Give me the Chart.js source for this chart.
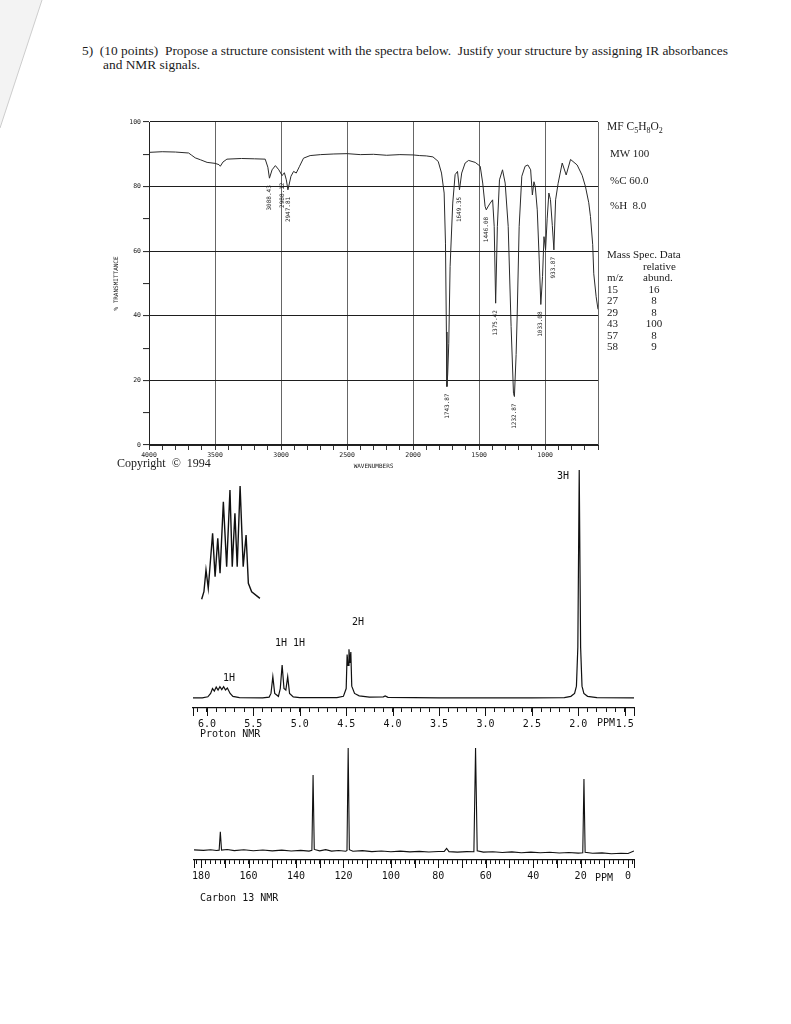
<!DOCTYPE html>
<html>
<head>
<meta charset="utf-8">
<script src="https://cdn.jsdelivr.net/npm/chart.js@4.4.0/dist/chart.umd.min.js"></script>
<style>
  body { margin: 0; background: #fff; }
  #page { position: relative; width: 791px; height: 1024px; overflow: hidden; background: #fff;
          font-family: "Liberation Serif", "Times New Roman", serif; color: #1b1b1b; }
  .t { position: absolute; white-space: nowrap; line-height: 1; }
  .mono { font-family: "DejaVu Sans Mono", monospace; color: #111; }
  canvas { position: absolute; }
  #ms div { height: 11.5px; line-height: 11.5px; position: relative; }
  #ms .ab { position: absolute; left: 32px; width: 30px; text-align: center; }
</style>
</head>
<body>
<div id="page">
  <svg width="60" height="140" style="position:absolute;left:0;top:0">
    <polygon points="0,0 42,0 0,128" fill="#f3f3f3"/>
    <line x1="42" y1="0" x2="0" y2="128" stroke="#cdcdcd" stroke-width="1"/>
  </svg>

  <div class="t" style="left:82px;top:44px;font-size:13.4px">5)&nbsp;&nbsp;(10 points)&nbsp; Propose a structure consistent with the spectra below.&nbsp; Justify your structure by assigning IR absorbances</div>
  <div class="t" style="left:103px;top:58px;font-size:13.4px">and NMR signals.</div>

  <canvas id="ir" width="520" height="363" style="left:90px;top:112px"></canvas>

  <div class="t" style="left:607px;top:121px;font-size:11.5px">MF C<sub style="font-size:8px">5</sub>H<sub style="font-size:8px">8</sub>O<sub style="font-size:8px">2</sub></div>
  <div class="t" style="left:610px;top:148px;font-size:11px">MW 100</div>
  <div class="t" style="left:610px;top:175px;font-size:11px">%C 60.0</div>
  <div class="t" style="left:610px;top:200px;font-size:11px">%H&nbsp; 8.0</div>
  <div class="t" style="left:607px;top:249px;font-size:11px;width:90px" id="ms">
    <div>Mass Spec. Data</div>
    <div><span class="ab" style="left:36px;width:auto">relative</span></div>
    <div>m/z<span class="ab" style="left:36px;width:auto">abund.</span></div>
  </div>

  <div class="t" style="left:117px;top:457px;font-size:12px">Copyright &nbsp;&copy;&nbsp; 1994</div>

  <canvas id="inset" width="66" height="119" style="left:198px;top:483px"></canvas>
  <canvas id="hnmr" width="470" height="290" style="left:180px;top:455px"></canvas>

  <div class="t mono" style="left:557px;top:471px;font-size:10px">3H</div>
  <div class="t mono" style="left:352px;top:617px;font-size:10px">2H</div>
  <div class="t mono" style="left:275px;top:638px;font-size:10px">1H 1H</div>
  <div class="t mono" style="left:223px;top:673px;font-size:10px">1H</div>
  <div class="t mono" style="left:597px;top:718px;font-size:10px">PPM</div>
  <div class="t mono" style="left:200px;top:729px;font-size:10px">Proton NMR</div>

  <canvas id="cnmr" width="470" height="160" style="left:180px;top:730px"></canvas>
  <div class="t mono" style="left:595px;top:873px;font-size:10px">PPM</div>
  <div class="t mono" style="left:200px;top:893px;font-size:10px">Carbon 13 NMR</div>
</div>

<script>
// ---- IR spectrum (wavenumber cm-1, % transmittance)
const irWavenumber = [4000, 3900, 3800, 3700, 3680, 3650, 3610, 3560, 3500, 3470, 3460, 3440, 3410, 3300, 3200, 3120,
  3100, 3088, 3068, 3043, 3017, 2992, 2975, 2960, 2948, 2925, 2905, 2885, 2860, 2830, 2780, 2700, 2600, 2500, 2400,
  2300, 2200, 2100, 2000, 1950, 1900, 1850, 1810, 1785, 1765, 1755, 1748, 1744, 1738, 1730, 1720, 1700, 1682, 1664,
  1649, 1632, 1606, 1580, 1530, 1492, 1473, 1455, 1446, 1430, 1416, 1398, 1386, 1375, 1362, 1346, 1323, 1303, 1280,
  1258, 1240, 1233, 1220, 1212, 1197, 1177, 1152, 1131, 1110, 1097, 1085, 1075, 1060, 1045, 1033, 1020, 1009, 997,
  985, 972, 960, 946, 934, 921, 902, 871, 841, 808, 758, 720, 695, 670, 657, 640, 632, 614, 600];
const irTransmittance = [90.6, 90.8, 90.7, 90.4, 89.8, 88.9, 88.3, 87.5, 87.2, 86.8, 86.3, 87.6, 88.5, 88.7, 88.6, 88.5,
  86.0, 82.6, 85.2, 86.5, 85.2, 83.4, 84.3, 82.1, 79.0, 83.2, 84.7, 84.2, 86.3, 88.8, 89.6, 89.9, 90.1, 90.2, 89.9,
  90.0, 89.7, 89.9, 89.8, 89.6, 89.5, 89.2, 87.8, 84.2, 78.0, 62.5, 35.0, 18.1, 22.0, 31.5, 55.3, 74.9, 83.7, 84.7,
  79.0, 84.2, 87.3, 88.1, 87.5, 86.3, 81.1, 73.9, 72.8, 74.0, 74.9, 75.9, 67.7, 43.9, 67.7, 82.1, 85.2, 81.1, 67.7,
  36.7, 16.0, 15.0, 28.0, 40.0, 67.7, 83.2, 86.3, 86.7, 85.2, 77.4, 81.5, 80.0, 72.8, 57.3, 43.5, 52.2, 64.5, 60.4,
  70.0, 78.0, 76.0, 68.0, 60.4, 75.9, 81.0, 87.3, 83.6, 88.4, 86.7, 83.5, 80.0, 75.0, 70.7, 62.0, 53.0, 45.9, 42.0];
const irPeakLabels = ['3088.43', '2988.12', '2947.81', '1743.87', '1649.35', '1446.08', '1375.42', '1232.87', '1033.08', '933.87'];
const irPeakMinT = [82.6, 83.4, 79.0, 18.1, 79.0, 72.8, 43.9, 15.0, 43.5, 60.4];

// ---- mass spec table
const msMz = [15, 27, 29, 43, 57, 58];
const msAbund = [16, 8, 8, 100, 8, 9];

// ---- proton NMR (ppm, intensity)
const hPpm = [6.15, 6.05, 5.99, 5.96, 5.94, 5.92, 5.90, 5.88, 5.86, 5.84, 5.82, 5.80, 5.78, 5.75, 5.72, 5.65, 5.40,
  5.33, 5.31, 5.29, 5.27, 5.23, 5.21, 5.19, 5.17, 5.15, 5.13, 5.11, 5.07, 5.00, 4.60, 4.53, 4.50, 4.49, 4.48, 4.47,
  4.46, 4.45, 4.44, 4.41, 4.36, 4.25, 4.10, 4.08, 4.05, 3.50, 3.00, 2.50, 2.15, 2.08, 2.04, 2.02, 2.005, 1.99, 1.975,
  1.96, 1.94, 1.90, 1.80, 1.40];
const hIntensity = [4.2, 4.2, 4.6, 6.0, 8.0, 7.0, 8.6, 7.4, 8.8, 7.6, 8.8, 7.4, 8.2, 6.0, 4.8, 4.3, 4.2,
  4.5, 6.0, 12.9, 6.0, 4.8, 8.0, 17.7, 8.0, 7.4, 12.9, 6.0, 4.6, 4.3, 4.3, 4.8, 8.0, 22.0, 17.5, 24.2,
  18.5, 23.0, 9.0, 6.0, 5.0, 4.5, 4.6, 5.0, 4.4, 4.2, 4.2, 4.2, 4.3, 4.8, 6.0, 9.0, 25.0, 97.9, 25.0,
  9.0, 6.0, 4.8, 4.3, 4.2];

// ---- expansion of the 1H multiplet (inset)
const insetPpm = [5.992, 5.981, 5.971, 5.960, 5.939, 5.927, 5.914, 5.903, 5.887, 5.871, 5.855, 5.844, 5.831, 5.820,
  5.806, 5.791, 5.777, 5.766, 5.750, 5.710];
const insetIntensity = [0.6, 7.2, 26.1, 10.2, 58.0, 20.3, 53.6, 23.2, 85.5, 29.0, 95.7, 29.0, 75.4, 29.0,
  99.1, 29.0, 56.5, 14.5, 7.2, 1.4];

// ---- carbon 13 NMR (ppm, intensity)
const cPpm = [183, 179, 176, 173.5, 172.4, 171.9, 171.4, 169, 166, 162, 158, 154, 150, 146, 142, 138, 134.5, 133.3,
  132.8, 132.3, 130, 127.5, 125, 122, 119, 118.5, 118.0, 117.5, 116, 112, 108, 104, 100, 96, 92, 88, 84, 80, 77.5,
  76.5, 75.5, 72, 68, 65, 64.3, 63.6, 61, 57, 53, 49, 45, 41, 37, 33, 29, 25, 21, 19.1, 18.6, 18.1, 15, 11, 7, 3, 0, -2.5];
const cIntensity = [8.4, 8.0, 8.6, 7.9, 8.2, 23.6, 8.3, 8.7, 7.8, 8.5, 7.7, 8.3, 7.6, 8.2, 7.5, 8.0, 7.4, 8.0,
  70.8, 8.8, 7.6, 8.6, 7.4, 7.9, 7.3, 7.9, 93.3, 8.6, 7.3, 7.8, 7.0, 7.5, 6.9, 7.4, 6.8, 7.2, 6.7, 7.1, 7.2,
  9.6, 7.0, 6.6, 7.0, 6.9, 93.3, 7.6, 6.6, 6.9, 6.3, 6.8, 6.1, 6.6, 6.0, 6.4, 5.8, 6.2, 5.7, 6.0, 67.5, 6.4, 5.6, 5.9, 5.2, 5.6, 5.4, 7.6];

const MONO = '"DejaVu Sans Mono", monospace';
const near = (v, step) => Math.abs(v / step - Math.round(v / step)) < 1e-6;
const toXY = (xs, ys) => xs.map((x, i) => ({ x: x, y: ys[i] }));

// mass spec rows
const msBox = document.getElementById('ms');
msMz.forEach((m, i) => {
  const row = document.createElement('div');
  row.innerHTML = m + '<span class="ab">' + msAbund[i] + '</span>';
  msBox.appendChild(row);
});

// rotated wavenumber labels under the IR dips
const irLabelPlugin = {
  id: 'irLabels',
  afterDatasetsDraw(chart) {
    const { ctx, scales: { x, y } } = chart;
    ctx.save();
    ctx.font = '6px ' + MONO;
    ctx.fillStyle = '#222';
    irPeakLabels.forEach((txt, i) => {
      const px = x.getPixelForValue(parseFloat(txt));
      const py = y.getPixelForValue(irPeakMinT[i]) + 7;
      ctx.save();
      ctx.translate(px, py);
      ctx.rotate(-Math.PI / 2);
      ctx.textAlign = 'right';
      ctx.textBaseline = 'middle';
      ctx.fillText(txt, 0, 0);
      ctx.restore();
    });
    ctx.restore();
  }
};

// longer ticks on the NMR ppm axes
function majorTicks(id, every, len) {
  return {
    id: id,
    afterDraw(chart) {
      const s = chart.scales.x, ctx = chart.ctx;
      ctx.save();
      ctx.strokeStyle = '#111';
      ctx.lineWidth = 1;
      const xs = s.ticks.filter(t => near(t.value, every)).map(t => s.getPixelForValue(t.value));
      xs.push(s.left, s.right);
      xs.forEach(px => {
        const p = Math.round(px) + 0.5;
        ctx.beginPath();
        ctx.moveTo(p, s.top);
        ctx.lineTo(p, s.top + len);
        ctx.stroke();
      });
      ctx.restore();
    }
  };
}

new Chart(document.getElementById('ir'), {
  type: 'line',
  data: {
    datasets: [{
      data: toXY(irWavenumber, irTransmittance),
      borderColor: '#2a2a2a',
      borderWidth: 1,
      pointRadius: 0,
      tension: 0
    }]
  },
  options: {
    responsive: false,
    animation: false,
    layout: { padding: { left: 0, top: 10, right: 12, bottom: 0 } },
    plugins: { legend: { display: false }, tooltip: { enabled: false } },
    scales: {
      x: {
        type: 'linear', reverse: true, min: 600, max: 4000,
        afterFit: s => { s.height = 30; },
        border: { display: true, color: '#222', width: 1 },
        grid: {
          color: c => (c.tick && (near(c.tick.value, 500) || c.tick.value === 600)) ? '#666' : 'rgba(0,0,0,0)',
          tickColor: '#333', tickLength: 5, lineWidth: 1
        },
        ticks: {
          stepSize: 100, maxTicksLimit: 1000, autoSkip: false, maxRotation: 0, includeBounds: false, padding: 1,
          color: '#222', font: { family: MONO, size: 6.5 },
          callback: v => near(v, 500) ? String(v) : ''
        },
        title: { display: true, text: 'WAVENUMBERS', color: '#222', font: { family: MONO, size: 6 }, padding: { top: 0, bottom: 5 } }
      },
      y: {
        min: 0, max: 100,
        afterFit: s => { s.width = 59; },
        border: { display: true, color: '#222', width: 1 },
        grid: {
          color: c => (c.tick && near(c.tick.value, 20)) ? '#1e1e1e' : 'rgba(0,0,0,0)',
          tickColor: '#333', tickLength: 6, lineWidth: 1.1
        },
        ticks: {
          stepSize: 10, autoSkip: false, padding: 2, color: '#222', font: { family: MONO, size: 6.5 },
          callback: v => near(v, 20) ? String(v) : ''
        },
        title: { display: true, text: '% TRANSMITTANCE', color: '#222', font: { family: MONO, size: 6 }, padding: { top: 23, bottom: 0 } }
      }
    }
  },
  plugins: [irLabelPlugin]
});

new Chart(document.getElementById('hnmr'), {
  type: 'line',
  data: {
    datasets: [{
      data: toXY(hPpm, hIntensity),
      borderColor: '#111',
      borderWidth: 1.2,
      pointRadius: 0,
      tension: 0
    }]
  },
  options: {
    responsive: false,
    animation: false,
    layout: { padding: { left: 13, top: 10, right: 16, bottom: 0 } },
    plugins: { legend: { display: false }, tooltip: { enabled: false } },
    scales: {
      x: {
        type: 'linear', reverse: true, min: 1.4, max: 6.15,
        afterFit: s => { s.height = 37; },
        border: { display: true, color: '#111', width: 1.2 },
        grid: { drawOnChartArea: false, drawTicks: true, tickLength: 4, tickColor: '#111' },
        ticks: {
          stepSize: 0.1, maxTicksLimit: 1000, autoSkip: false, maxRotation: 0, includeBounds: false, padding: 6,
          color: '#111', font: { family: MONO, size: 10 },
          callback: v => near(v, 0.5) ? v.toFixed(1) : ''
        }
      },
      y: { display: false, min: 0, max: 100 }
    }
  },
  plugins: [majorTicks('hMajor', 0.5, 8)]
});

new Chart(document.getElementById('inset'), {
  type: 'line',
  data: {
    datasets: [{
      data: toXY(insetPpm, insetIntensity),
      borderColor: '#111',
      borderWidth: 1.4,
      pointRadius: 0,
      tension: 0
    }]
  },
  options: {
    responsive: false,
    animation: false,
    layout: { padding: { left: 2, top: 2, right: 2, bottom: 2 } },
    plugins: { legend: { display: false }, tooltip: { enabled: false } },
    scales: {
      x: { type: 'linear', reverse: true, min: 5.70, max: 6.00, display: false },
      y: { min: 0, max: 100, display: false }
    }
  }
});

new Chart(document.getElementById('cnmr'), {
  type: 'line',
  data: {
    datasets: [{
      data: toXY(cPpm, cIntensity),
      borderColor: '#111',
      borderWidth: 1.1,
      pointRadius: 0,
      tension: 0
    }]
  },
  options: {
    responsive: false,
    animation: false,
    layout: { padding: { left: 14, top: 10, right: 16, bottom: 0 } },
    plugins: { legend: { display: false }, tooltip: { enabled: false } },
    scales: {
      x: {
        type: 'linear', reverse: true, min: -2.5, max: 183,
        afterFit: s => { s.height = 30; },
        border: { display: true, color: '#111', width: 1.2 },
        grid: { drawOnChartArea: false, drawTicks: true, tickLength: 4, tickColor: '#111' },
        ticks: {
          stepSize: 2, maxTicksLimit: 1000, autoSkip: false, maxRotation: 0, includeBounds: false, padding: 6,
          color: '#111', font: { family: MONO, size: 10 },
          callback: v => near(v, 20) ? String(v) : ''
        }
      },
      y: { display: false, min: 0, max: 100 }
    }
  },
  plugins: [majorTicks('cMajor', 10, 8)]
});
</script>
</body>
</html>
